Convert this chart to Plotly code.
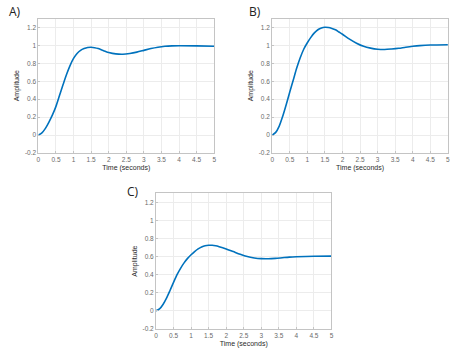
import plotly.graph_objects as go

t_a = [0, 0.1, 0.2, 0.3, 0.4, 0.5, 0.6, 0.7, 0.8, 0.9, 1.0, 1.1, 1.2, 1.3, 1.4, 1.5, 1.6, 1.7, 1.8, 1.9, 2.0,
       2.2, 2.4, 2.6, 2.8, 3.0, 3.2, 3.4, 3.6, 3.8, 4.0, 4.5, 5.0]
y_a = [0, 0.025, 0.075, 0.145, 0.225, 0.32, 0.44, 0.56, 0.675, 0.775, 0.855, 0.91, 0.945, 0.965, 0.977, 0.98, 0.975,
       0.965, 0.95, 0.935, 0.922, 0.906, 0.902, 0.91, 0.925, 0.945, 0.965, 0.98, 0.99, 0.995, 0.997, 0.995, 0.99]

t_b = [0, 0.1, 0.2, 0.3, 0.4, 0.5, 0.6, 0.7, 0.8, 0.9, 1.0, 1.1, 1.2, 1.3, 1.4, 1.5, 1.6, 1.7, 1.8, 1.9, 2.0,
       2.2, 2.4, 2.6, 2.8, 3.0, 3.2, 3.4, 3.6, 3.8, 4.0, 4.2, 4.5, 5.0]
y_b = [0, 0.03, 0.1, 0.21, 0.34, 0.48, 0.615, 0.75, 0.865, 0.96, 1.03, 1.09, 1.14, 1.175, 1.195, 1.203, 1.2,
       1.19, 1.175, 1.15, 1.125, 1.07, 1.025, 0.99, 0.97, 0.958, 0.955, 0.96, 0.968, 0.98, 0.99, 0.998, 1.005, 1.008]

t_c = [0, 0.1, 0.2, 0.3, 0.4, 0.5, 0.6, 0.7, 0.8, 0.9, 1.0, 1.1, 1.2, 1.3, 1.4, 1.5, 1.6, 1.7, 1.8, 2.0,
       2.2, 2.4, 2.6, 2.8, 3.0, 3.2, 3.4, 3.6, 3.8, 4.0, 4.5, 5.0]
y_c = [0, 0.02, 0.07, 0.14, 0.225, 0.315, 0.4, 0.47, 0.53, 0.58, 0.62, 0.656, 0.686, 0.707, 0.72, 0.725, 0.725,
       0.72, 0.71, 0.685, 0.655, 0.625, 0.6, 0.585, 0.577, 0.576, 0.58, 0.587, 0.594, 0.598, 0.603, 0.605]

x_ticks = [0, 0.5, 1, 1.5, 2, 2.5, 3, 3.5, 4, 4.5, 5]
x_tick_text = ["0", "0.5", "1", "1.5", "2", "2.5", "3", "3.5", "4", "4.5", "5"]
y_ticks = [-0.2, 0, 0.2, 0.4, 0.6, 0.8, 1, 1.2]
y_tick_text = ["-0.2", "0", "0.2", "0.4", "0.6", "0.8", "1", "1.2"]
panel_labels = ["A)", "B)", "C)"]

W, H = 474, 351
def px_dom(a, b, total):
    return [a / total, b / total]

fig = go.Figure()
panels = [
    (t_a, y_a, (36.7, 214.0), (18.7, 154.3)),
    (t_b, y_b, (272.5, 449.7), (18.7, 154.3)),
    (t_c, y_c, (155.3, 332.3), (195.0, 331.7)),
]
BLUE = "#0072BD"
font = "Liberation Sans, Arial, sans-serif"
for i, (tx, ty, (x0, x1), (yt, yb)) in enumerate(panels):
    n = "" if i == 0 else str(i + 1)
    fig.add_trace(go.Scatter(x=tx, y=ty, mode="lines", line=dict(color=BLUE, width=1.6, shape="spline", smoothing=0.8),
                             xaxis="x" + n, yaxis="y" + n, showlegend=False, hoverinfo="skip"))
    xa = dict(domain=px_dom(x0, x1, W), range=[0, 5], tickvals=x_ticks, ticktext=x_tick_text,
              showgrid=True, gridcolor="#ececec", gridwidth=1, zeroline=False,
              showline=True, linecolor="#c4c4c4", linewidth=1, mirror=True,
              ticks="inside", ticklen=2, tickcolor="#c4c4c4",
              tickfont=dict(size=6.5, color="#6a6a6a", family=font),
              title=dict(text="Time (seconds)", font=dict(size=7, color="#2a2a2a", family=font), standoff=3),
              anchor="y" + n, fixedrange=True)
    ya = dict(domain=[1 - yb / H, 1 - yt / H], range=[-0.2, 1.3], tickvals=y_ticks, ticktext=y_tick_text,
              showgrid=True, gridcolor="#ececec", gridwidth=1, zeroline=False,
              showline=True, linecolor="#c4c4c4", linewidth=1, mirror=True,
              ticks="inside", ticklen=2, tickcolor="#c4c4c4",
              tickfont=dict(size=6.5, color="#6a6a6a", family=font),
              title=dict(text="Amplitude", font=dict(size=7, color="#2a2a2a", family=font), standoff=4),
              anchor="x" + n, fixedrange=True)
    fig.layout["xaxis" + n] = xa
    fig.layout["yaxis" + n] = ya

label_pos = [(5, 12), (247, 12), (124, 193)]
for lab, (lx, ly) in zip(panel_labels, label_pos):
    fig.add_annotation(text=lab, x=lx / W, y=1 - ly / H, xref="paper", yref="paper",
                       xanchor="left", yanchor="middle", showarrow=False,
                       font=dict(size=12, color="#222222", family="Open Sans, sans-serif"))

fig.update_layout(width=W, height=H, margin=dict(l=0, r=0, t=0, b=0),
                  paper_bgcolor="white", plot_bgcolor="white")
fig.write_html("out.html", config={"displayModeBar": False})
